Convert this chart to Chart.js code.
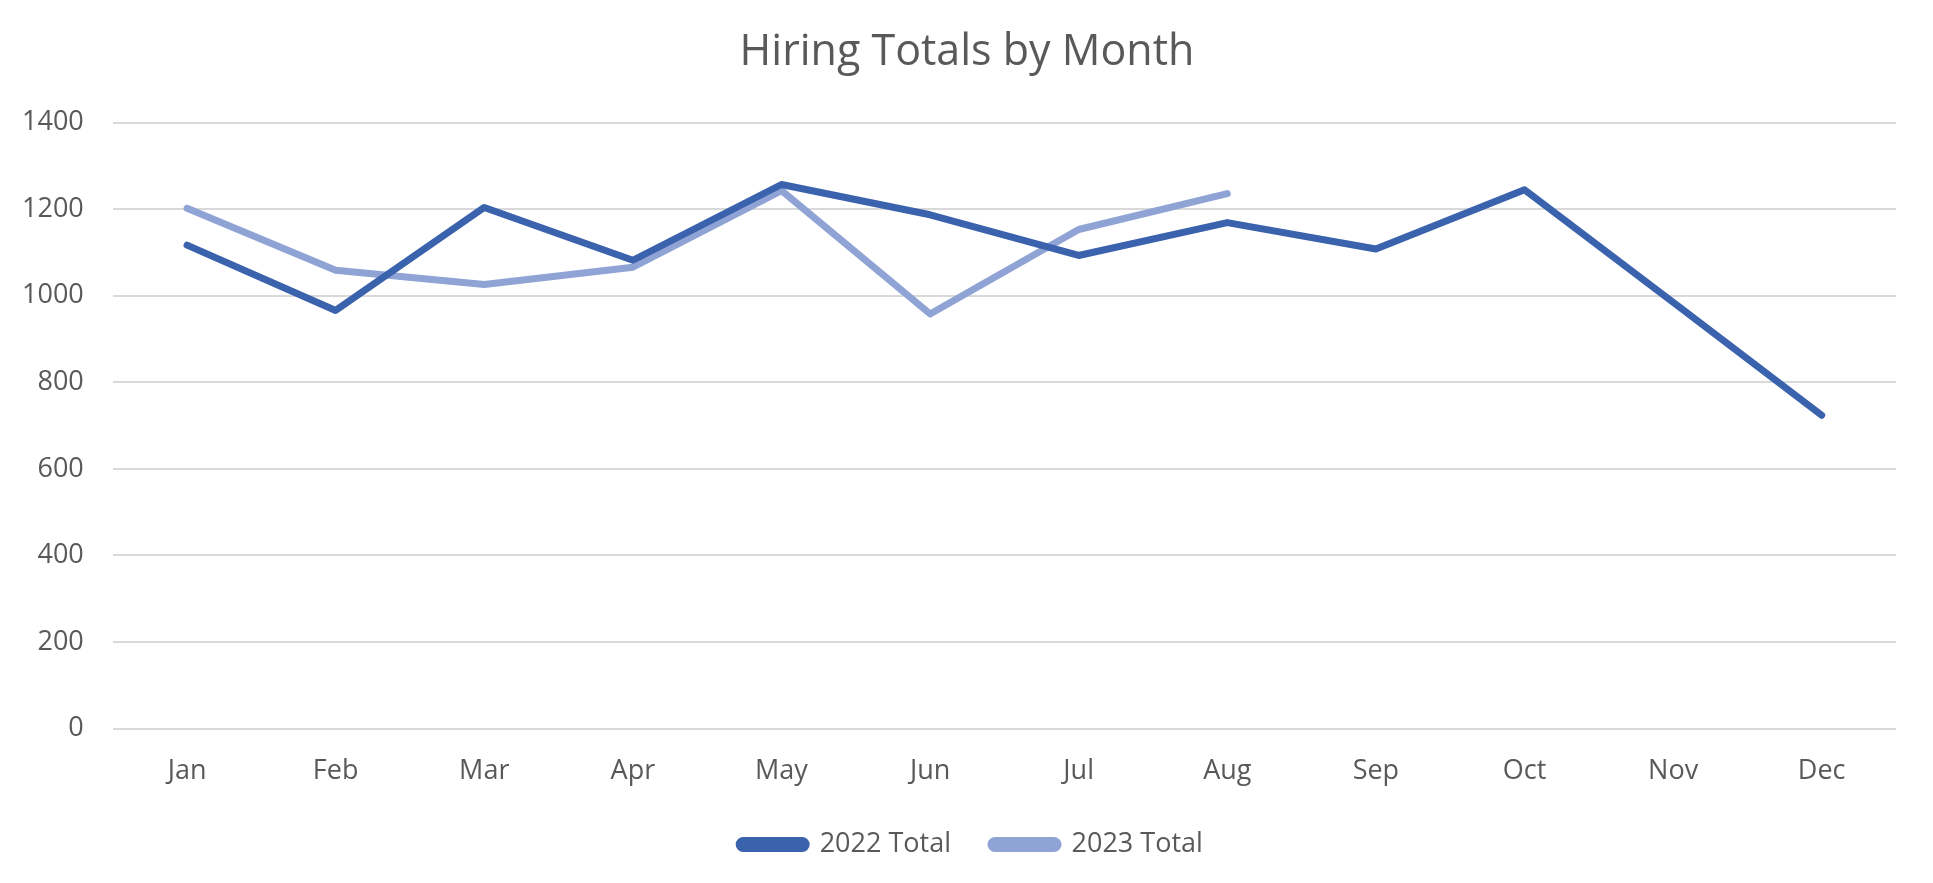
<!DOCTYPE html>
<html>
<head>
<meta charset="utf-8">
<script src="https://cdn.jsdelivr.net/npm/chart.js@4"></script>
<style>
    html, body { margin: 0; padding: 0; background: #ffffff; }
    .chart-box { width: 1933px; height: 883px; }
</style>
</head>
<body>
<div class="chart-box">
    <canvas id="hiringChart"></canvas>
</div>
<script>
// Data
const months = ['Jan', 'Feb', 'Mar', 'Apr', 'May', 'Jun', 'Jul', 'Aug', 'Sep', 'Oct', 'Nov', 'Dec'];
const total2022 = [1117, 966, 1204, 1082, 1257, 1187, 1093, 1169, 1108, 1245, 985, 724];
const total2023 = [1202, 1059, 1026, 1066, 1243, 958, 1153, 1236, null, null, null, null];
const yTicks = [0, 200, 400, 600, 800, 1000, 1200, 1400];

const textColor = '#595959';
const gridColor = '#d9d9d9';
const fontFamily = '"Open Sans", sans-serif';

// One line dataset
function makeDataset(label, values, color) {
    return {
        label: label,
        data: values,
        borderColor: color,
        backgroundColor: color,
        borderWidth: 7,
        pointRadius: 0,
        pointHoverRadius: 0,
        tension: 0,
        borderJoinStyle: 'round',
        borderCapStyle: 'round',
        spanGaps: false
    };
}

// Title and legend are centred on the whole picture, not on the padded box
const centerShift = {
    id: 'centerShift',
    afterLayout(chart) {
        chart.titleBlock.left += 8;
        chart.titleBlock.right += 8;
        chart.legend.left += 12;
        chart.legend.right += 12;
    }
};

function createChart(canvasId) {
    const ctx = document.getElementById(canvasId).getContext('2d');
    return new Chart(ctx, {
        type: 'line',
        data: {
            labels: months,
            datasets: [
                makeDataset('2022 Total', total2022, '#3a62ad'),
                makeDataset('2023 Total', total2023, '#8fa4d5')
            ]
        },
        plugins: [centerShift],
        options: {
            responsive: true,
            maintainAspectRatio: false,
            animation: false,
            layout: {
                padding: { left: 22, right: 37, top: 0, bottom: 15 }
            },
            plugins: {
                title: {
                    display: true,
                    text: 'Hiring Totals by Month',
                    color: textColor,
                    font: { family: fontFamily, size: 43, weight: 'normal' },
                    padding: { top: 27, bottom: 44 }
                },
                legend: {
                    position: 'bottom',
                    labels: {
                        color: textColor,
                        font: { family: fontFamily, size: 27 },
                        boxWidth: 67,
                        boxHeight: 8,
                        padding: 40,
                        useBorderRadius: true,
                        borderRadius: 4
                    }
                },
                tooltip: { enabled: false }
            },
            scales: {
                x: {
                    offset: true,
                    afterFit: (axis) => {
                        // legend padding is large (item gap), take it back here
                        axis.height -= 24;
                    },
                    grid: { display: false, drawTicks: false },
                    border: { display: false },
                    ticks: {
                        color: textColor,
                        font: { family: fontFamily, size: 27 },
                        padding: 27,
                        maxRotation: 0
                    }
                },
                y: {
                    min: 0,
                    max: 1400,
                    afterBuildTicks: (axis) => {
                        axis.ticks = yTicks.map(v => ({ value: v }));
                    },
                    afterFit: (axis) => {
                        axis.width -= 29;
                    },
                    grid: { color: gridColor, lineWidth: 2, drawTicks: false },
                    border: { display: false },
                    ticks: {
                        color: textColor,
                        font: { family: fontFamily, size: 27 },
                        padding: 29,
                        callback: (value) => String(value)
                    }
                }
            }
        }
    });
}

createChart('hiringChart');
</script>
</body>
</html>
